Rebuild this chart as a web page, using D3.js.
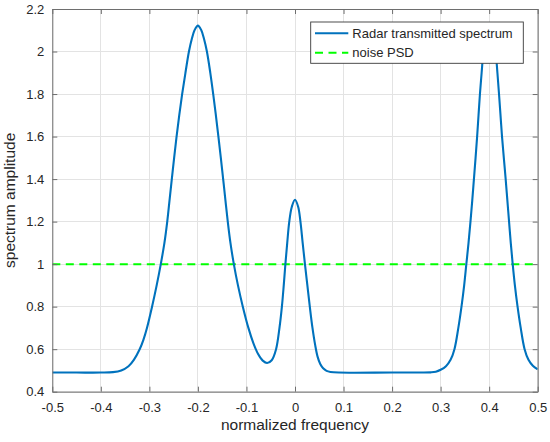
<!DOCTYPE html>
<html>
<head>
<meta charset="utf-8">
<script src="https://cdn.jsdelivr.net/npm/d3@7"></script>
<style>
  html, body { margin: 0; padding: 0; background: #fff; }
  svg { display: block; }
  text { font-family: "Liberation Sans", Arial, sans-serif; fill: #262626; }
</style>
</head>
<body>
<div id="chart"></div>
<script>
// ---- data ----
const freq = [
  -0.5, -0.45, -0.40, -0.375, -0.358, -0.343, -0.332, -0.320, -0.3125, -0.305, -0.2945,
  -0.2850, -0.2765, -0.2690, -0.2632, -0.2585, -0.2538, -0.2490, -0.2440, -0.2385, -0.2325, -0.2257, -0.2185, -0.2125, -0.207,
  -0.200,
  -0.193, -0.1875, -0.1815, -0.1745, -0.1685, -0.1630, -0.1578, -0.1528, -0.1480, -0.1433, -0.1385, -0.1330,
  -0.1260, -0.1175, -0.1075, -0.0960, -0.0860, -0.0760, -0.0665, -0.0575, -0.0480, -0.0390, -0.0320, -0.0270, -0.0232,
  -0.0198, -0.0160, -0.0118, -0.0065, 0.0, 0.0065, 0.0112, 0.0158, 0.0205, 0.0255, 0.0305, 0.0360, 0.0415, 0.0465,
  0.0520, 0.0580, 0.0650, 0.0730, 0.09, 0.20, 0.26, 0.28, 0.29, 0.30, 0.311, 0.3205, 0.3285, 0.3365, 0.3430, 0.3485,
  0.3530, 0.3575, 0.3615, 0.3652, 0.3686, 0.3720, 0.3752, 0.3781, 0.3810, 0.3845, 0.3880, 0.3910, 0.3945,
  0.4005,
  0.4065, 0.4100, 0.4135, 0.4170, 0.4203, 0.4234, 0.4265, 0.4302, 0.4340, 0.4375, 0.4410, 0.4445,
  0.4485, 0.4530, 0.4585, 0.4650, 0.4730, 0.4810, 0.4900, 0.500
];
const amplitude = [
  0.49, 0.49, 0.49, 0.492, 0.50, 0.52, 0.55, 0.60, 0.643, 0.70, 0.80,
  0.90, 1.00, 1.10, 1.20, 1.30, 1.40, 1.50, 1.60, 1.70, 1.80, 1.90, 2.00, 2.06, 2.10,
  2.122,
  2.10, 2.06, 2.00, 1.90, 1.80, 1.70, 1.60, 1.50, 1.40, 1.30, 1.20, 1.10,
  1.00, 0.90, 0.80, 0.70, 0.63, 0.577, 0.546, 0.535, 0.548, 0.60, 0.70, 0.80, 0.90,
  1.00, 1.10, 1.20, 1.27, 1.303, 1.27, 1.20, 1.10, 1.00, 0.90, 0.80, 0.70, 0.62, 0.565,
  0.53, 0.51, 0.498, 0.493, 0.49, 0.49, 0.49, 0.491, 0.494, 0.503, 0.52, 0.55, 0.60, 0.70, 0.80, 0.90,
  1.00, 1.10, 1.20, 1.30, 1.40, 1.50, 1.60, 1.70, 1.80, 1.90, 2.00, 2.06, 2.10,
  2.13,
  2.10, 2.06, 2.00, 1.90, 1.80, 1.70, 1.60, 1.50, 1.40, 1.30, 1.20, 1.10,
  1.00, 0.90, 0.80, 0.70, 0.60, 0.55, 0.522, 0.505
];
const noiseLevel = 1.0;
const xTicks = [-0.5, -0.4, -0.3, -0.2, -0.1, 0, 0.1, 0.2, 0.3, 0.4, 0.5];
const xTickLabels = ["-0.5", "-0.4", "-0.3", "-0.2", "-0.1", "0", "0.1", "0.2", "0.3", "0.4", "0.5"];
const yTicks = [0.4, 0.6, 0.8, 1.0, 1.2, 1.4, 1.6, 1.8, 2.0, 2.2];
const yTickLabels = ["0.4", "0.6", "0.8", "1", "1.2", "1.4", "1.6", "1.8", "2", "2.2"];
const seriesNames = ["Radar transmitted spectrum", "noise PSD"];
const xLabel = "normalized frequency";
const yLabel = "spectrum amplitude";

// ---- layout ----
const W = 550, H = 442;
const L = 52.3, R = 537.7, T = 9, B = 391.7;
const blue = "#0072BD", green = "#00FF00", axisCol = "#6e6e6e", gridCol = "#e3e3e3";

const svg = d3.select("#chart").append("svg").attr("width", W).attr("height", H);

const x = d3.scaleLinear().domain([-0.5, 0.5]).range([L, R]);
const y = d3.scaleLinear().domain([0.4, 2.2]).range([B, T]);

// grid
const grid = svg.append("g");
grid.selectAll("line.vx").data(xTicks).join("line")
  .attr("x1", d => x(d)).attr("x2", d => x(d)).attr("y1", T).attr("y2", B)
  .attr("stroke", gridCol).attr("stroke-width", 1).attr("shape-rendering", "crispEdges");
grid.selectAll("line.hy").data(yTicks).join("line")
  .attr("x1", L).attr("x2", R).attr("y1", d => y(d)).attr("y2", d => y(d))
  .attr("stroke", gridCol).attr("stroke-width", 1).attr("shape-rendering", "crispEdges");

// clip
svg.append("clipPath").attr("id", "clip").append("rect")
  .attr("x", L).attr("y", T).attr("width", R - L).attr("height", B - T);

const plot = svg.append("g").attr("clip-path", "url(#clip)");

// noise line
plot.append("line")
  .attr("x1", x(-0.5)).attr("x2", x(0.5)).attr("y1", y(noiseLevel)).attr("y2", y(noiseLevel))
  .attr("stroke", green).attr("stroke-width", 2).attr("stroke-dasharray", "8,5.5");

// spectrum
const pts = freq.map((f, i) => [f, amplitude[i]]);
const line = d3.line().x(d => x(d[0])).y(d => y(d[1])).curve(d3.curveCatmullRom.alpha(0.5));
plot.append("path").datum(pts).attr("d", line)
  .attr("fill", "none").attr("stroke", blue).attr("stroke-width", 2.1)
  .attr("stroke-linejoin", "round");

// axes
function styleAxis(g) {
  g.attr("font-family", null).attr("font-size", null);
  g.selectAll("path.domain").attr("stroke", axisCol).attr("stroke-width", 1);
  g.selectAll(".tick line").attr("stroke", axisCol).attr("stroke-width", 1);
  g.selectAll(".tick text").style("font-size", "13px").attr("fill", "#262626");
}
const xAxis = svg.append("g").attr("transform", `translate(0,${B})`)
  .call(d3.axisBottom(x).tickValues(xTicks).tickSizeInner(-5).tickSizeOuter(0).tickPadding(11)
    .tickFormat((d, i) => xTickLabels[i]));
styleAxis(xAxis);
const xAxisTop = svg.append("g").attr("transform", `translate(0,${T})`)
  .call(d3.axisTop(x).tickValues(xTicks).tickSizeInner(-5).tickSizeOuter(0).tickFormat(""));
styleAxis(xAxisTop);
const yAxis = svg.append("g").attr("transform", `translate(${L},0)`)
  .call(d3.axisLeft(y).tickValues(yTicks).tickSizeInner(-5).tickSizeOuter(0).tickPadding(8)
    .tickFormat((d, i) => yTickLabels[i]));
styleAxis(yAxis);
const yAxisRight = svg.append("g").attr("transform", `translate(${R},0)`)
  .call(d3.axisRight(y).tickValues(yTicks).tickSizeInner(-5).tickSizeOuter(0).tickFormat(""));
styleAxis(yAxisRight);

// axis labels
svg.append("text").attr("x", (L + R) / 2).attr("y", 430).attr("text-anchor", "middle")
  .style("font-size", "15.5px").text(xLabel);
svg.append("text").attr("transform", `translate(15,${(T + B) / 2}) rotate(-90)`)
  .attr("text-anchor", "middle").style("font-size", "15.5px").text(yLabel);

// legend
const leg = svg.append("g");
leg.append("rect").attr("x", 310.7).attr("y", 22).attr("width", 212.6).attr("height", 41.3)
  .attr("fill", "#fff").attr("stroke", "#3a3a3a").attr("stroke-width", 0.9);
const legY = [33.3, 52.7];
leg.append("line").attr("x1", 315).attr("x2", 348.3).attr("y1", legY[0]).attr("y2", legY[0])
  .attr("stroke", blue).attr("stroke-width", 2.1);
leg.append("line").attr("x1", 315).attr("x2", 348.3).attr("y1", legY[1]).attr("y2", legY[1])
  .attr("stroke", green).attr("stroke-width", 2).attr("stroke-dasharray", "8,5.5");
seriesNames.forEach((name, i) => {
  leg.append("text").attr("x", 352.3).attr("y", legY[i]).attr("dy", "0.35em")
    .style("font-size", "13px").text(name);
});
</script>
</body>
</html>
